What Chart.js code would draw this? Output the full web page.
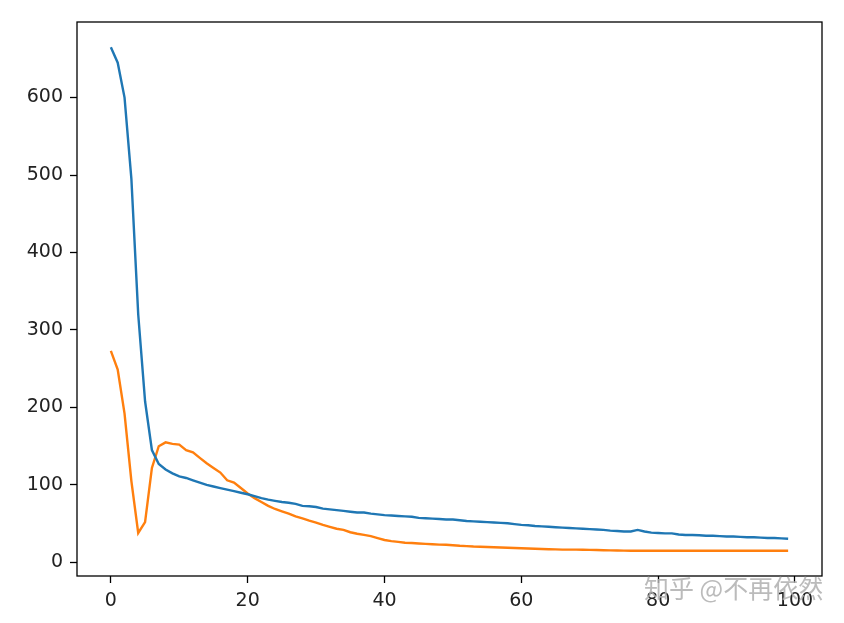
<!DOCTYPE html>
<html>
<head>
<meta charset="utf-8">
<script src="https://cdn.jsdelivr.net/npm/chart.js@4/dist/chart.umd.min.js"></script>
<style>
  html, body { margin: 0; padding: 0; background: #fff; }
  #wrap { width: 844px; height: 623px; }
</style>
</head>
<body>
<div id="wrap"><canvas id="c" width="844" height="623"></canvas></div>
<script>
// ---- data ----
const epochs = Array.from({ length: 100 }, (_, i) => i);

const blueSeries = [
  665, 645, 600, 495, 320, 208, 145, 127, 120, 115,
  111, 109, 106, 103, 100, 98, 96, 94, 92, 90,
  88, 85.5, 83, 81, 79.5, 78, 77, 75.5, 73, 72.5,
  71.5, 69.5, 68.5, 67.5, 66.5, 65.5, 64.5, 64.5, 63, 62,
  61, 60.5, 60, 59.5, 59, 57.5, 57, 56.5, 56, 55.5,
  55.5, 54.5, 53.5, 53, 52.5, 52, 51.5, 51, 50.5, 49.5,
  48.5, 48, 47, 46.5, 46, 45.5, 45, 44.5, 44, 43.5,
  43, 42.5, 42, 41, 40.5, 40, 40, 42, 40, 38.5,
  38, 37.5, 37.5, 36, 35.5, 35.5, 35, 34.5, 34.5, 34,
  33.5, 33.5, 33, 32.5, 32.5, 32, 31.5, 31.5, 31, 30.5
];

const orangeSeries = [
  273, 249, 192, 105, 38, 52, 122, 150, 155, 153,
  152, 145, 142, 135, 128, 122, 116, 106, 103, 96,
  89, 83, 78, 73, 69, 66, 63, 59.5, 57, 54,
  51.5, 48.5, 46, 43.5, 42, 39, 37, 35.5, 34, 31.5,
  29, 27.5, 26.5, 25.5, 25, 24.5, 24, 23.5, 23, 22.8,
  22.2, 21.5, 21, 20.5, 20.3, 20, 19.6, 19.3, 19, 18.6,
  18.3, 18, 17.7, 17.3, 17, 16.8, 16.6, 16.5, 16.5, 16.4,
  16.2, 16, 15.8, 15.6, 15.5, 15.3, 15, 15, 15, 15,
  15.2, 15.1, 15, 15, 15, 15, 15, 15, 15, 15,
  15, 15, 15, 15, 15, 15, 15, 15, 15, 15
];

const xTicks = [0, 20, 40, 60, 80, 100];
const yTicks = [0, 100, 200, 300, 400, 500, 600];
const watermark = '知乎 @不再依然';

// ---- chart ----
const toPoints = arr => arr.map((v, i) => ({ x: epochs[i], y: v }));

const boxPlugin = {
  id: 'box',
  afterDatasetsDraw(chart) {
    const { ctx, chartArea: a } = chart;
    ctx.save();
    ctx.strokeStyle = '#000';
    ctx.lineWidth = 1.3;
    ctx.strokeRect(a.left, a.top, a.right - a.left, a.bottom - a.top);
    ctx.restore();
  },
  afterDraw(chart) {
    const { ctx } = chart;
    ctx.save();
    ctx.font = '25px "Noto Sans CJK SC"';
    ctx.textBaseline = 'middle';
    ctx.textAlign = 'left';
    ctx.fillStyle = 'rgba(175,175,175,0.85)';
    ctx.fillText(watermark, 644, 588);
    ctx.restore();
  }
};

const tickFont = { family: 'DejaVu Sans', size: 19 };

new Chart(document.getElementById('c'), {
  type: 'line',
  data: {
    datasets: [
      { data: toPoints(blueSeries), borderColor: '#1f77b4', borderWidth: 2.4, pointRadius: 0, tension: 0, fill: false },
      { data: toPoints(orangeSeries), borderColor: '#ff7f0e', borderWidth: 2.4, pointRadius: 0, tension: 0, fill: false }
    ]
  },
  options: {
    responsive: false,
    animation: false,
    devicePixelRatio: 1,
    layout: { padding: { left: 0, top: 22, right: 22, bottom: 0 } },
    plugins: { legend: { display: false }, tooltip: { enabled: false } },
    scales: {
      x: {
        type: 'linear',
        min: -4.95,
        max: 103.95,
        afterBuildTicks: s => { s.ticks = xTicks.map(v => ({ value: v })); },
        afterFit: s => { s.height = 47; },
        grid: { drawOnChartArea: false, drawTicks: true, tickLength: 7, tickColor: '#000', tickWidth: 1.3 },
        border: { display: false },
        ticks: { font: tickFont, color: '#222', padding: 7, maxRotation: 0, autoSkip: false }
      },
      y: {
        type: 'linear',
        min: -17.5,
        max: 697.5,
        afterBuildTicks: s => { s.ticks = yTicks.map(v => ({ value: v })); },
        afterFit: s => { s.width = 77; },
        grid: { drawOnChartArea: false, drawTicks: true, tickLength: 7, tickColor: '#000', tickWidth: 1.3 },
        border: { display: false },
        ticks: { font: tickFont, color: '#222', padding: 7, autoSkip: false }
      }
    }
  },
  plugins: [boxPlugin]
});
</script>
</body>
</html>
